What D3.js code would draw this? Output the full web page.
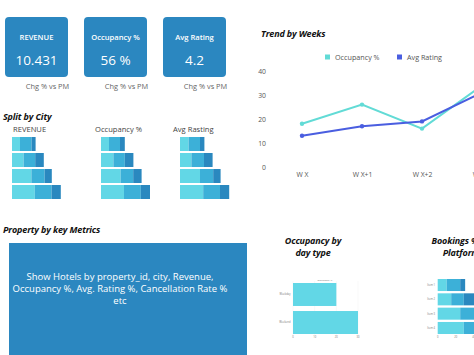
<!DOCTYPE html>
<html><head><meta charset="utf-8">
<script src="https://cdn.jsdelivr.net/npm/d3@7"></script>
<style>html,body{margin:0;padding:0;background:#fff;overflow:hidden}svg{display:block}</style>
</head><body><svg id="c" width="474" height="355"></svg>
<script>
// ---------- data ----------
const kpiTitles = ["REVENUE", "Occupancy %", "Avg Rating"];
const kpiValues = ["10.431", "56 %", "4.2"];
const kpiNote = "Chg % vs PM";
const weeks = ["W X", "W X+1", "W X+2", "W X+3"];
const occupancyTrend = [18, 26, 16, 34];
const ratingTrend = [13, 17, 19, 31];
const trendTicks = [0, 10, 20, 30, 40];
const trendSeries = ["Occupancy %", "Avg Rating"];
const splitMetrics = ["REVENUE", "Occupancy %", "Avg Rasting"];
const cities = ["City 1", "City 2", "City 3", "City 4"];
const revenueSplit = [[2, 2.9, 1], [2.9, 2.9, 2.15], [4.85, 3.3, 1.8], [5.7, 4.2, 2.3]];
const occupancySplit = [[2, 2.75, 1.2], [3.1, 2.85, 2.15], [4.9, 3.15, 2.1], [5.75, 4.2, 2.3]];
const ratingSplit = [[2.15, 2.85, 1.1], [2.85, 3.15, 2.15], [5, 3.3, 1.85], [5.8, 4.2, 2.3]];
const dayTypes = ["Weekday", "Weekend"];
const dayOccupancy = [20, 30];
const dayTicks = [0, 10, 20, 30];
const platforms = ["Item 1", "Item 2", "Item 3", "Item 4"];
const platformSplit = [[10, 15, 5.5], [15, 14, 12], [25, 16, 10], [29, 21, 12]];
const platformTicks = [0, 20, 40];
const tableNote = ["Show Hotels by property_id, city, Revenue,", "Occupancy %, Avg. Rating %, Cancellation Rate %", "etc"];

// ---------- styles ----------
const FONT = "'Open Sans', 'Noto Sans', sans-serif";
const BLUE = "#2b87c0";
const SEG = ["#62d7e6", "#3cb0d8", "#2a88bf"];
const TEAL = "#62dbd6", INDIGO = "#4a5ee0";

const svg = d3.select("#c").style("font-family", FONT);

function title(x, y, lines, anchor) {
  const t = svg.append("text").attr("x", x).attr("y", y)
    .attr("font-size", 9).attr("font-weight", 700).attr("font-style", "italic")
    .attr("letter-spacing", -0.15)
    .attr("fill", "#111").attr("text-anchor", anchor || "start");
  lines.forEach((l, i) => t.append("tspan").attr("x", x).attr("dy", i ? 12 : 0).text(l));
}

// ---------- KPI cards ----------
const cardX = d3.scaleBand().domain(kpiTitles).range([5, 226]).paddingInner(0.2025).paddingOuter(0);
const cards = svg.append("g").selectAll("g").data(kpiTitles).join("g")
  .attr("transform", d => `translate(${cardX(d)},17)`);
cards.append("rect").attr("width", cardX.bandwidth()).attr("height", 60).attr("rx", 4).attr("fill", BLUE);
cards.append("text").attr("x", cardX.bandwidth() / 2).attr("y", 20.5).attr("dy", "0.35em")
  .attr("text-anchor", "middle").attr("fill", "#fff").attr("font-size", 7.6).attr("font-weight", 600).text(d => d);
cards.append("text").attr("x", cardX.bandwidth() / 2).attr("y", 43.5).attr("dy", "0.35em")
  .attr("text-anchor", "middle").attr("fill", "#fff").attr("font-size", 13.5).attr("font-weight", 500)
  .text((d, i) => kpiValues[i]);
cards.append("text").attr("x", cardX.bandwidth() / 2 + 11).attr("y", 69).attr("dy", "0.35em")
  .attr("text-anchor", "middle").attr("fill", "#666").attr("font-size", 7.4).text(kpiNote);

// ---------- Trend by Weeks ----------
title(261, 36.5, ["Trend by Weeks"]);
const tx = d3.scalePoint().domain(weeks).range([302, 482]);
const ty = d3.scaleLinear().domain([0, 40]).range([167, 71]);
const yAx = svg.append("g").attr("transform", "translate(270,0)")
  .call(d3.axisLeft(ty).tickValues(trendTicks).tickSize(0).tickPadding(4));
yAx.select(".domain").remove();
yAx.selectAll("text").attr("font-family", FONT).attr("font-size", 6.8).attr("fill", "#555");
const xAx = svg.append("g").attr("transform", "translate(0,175)")
  .call(d3.axisBottom(tx).tickSize(0).tickPadding(0));
xAx.select(".domain").remove();
xAx.selectAll("text").attr("font-family", FONT).attr("font-size", 6.8).attr("fill", "#555").attr("dy", "0.35em");

const line = d3.line().x((d, i) => tx(weeks[i])).y(d => ty(d));
[[occupancyTrend, TEAL], [ratingTrend, INDIGO]].forEach(([vals, col]) => {
  svg.append("path").datum(vals).attr("d", line).attr("fill", "none")
    .attr("stroke", col).attr("stroke-width", 2);
  svg.append("g").selectAll("circle").data(vals).join("circle")
    .attr("cx", (d, i) => tx(weeks[i])).attr("cy", d => ty(d)).attr("r", 2.2).attr("fill", col);
});
const lg = svg.append("g").selectAll("g").data(trendSeries).join("g")
  .attr("transform", (d, i) => `translate(${[325, 397][i]},57)`);
lg.append("rect").attr("x", 0).attr("y", -2.5).attr("width", 5).attr("height", 5)
  .attr("fill", (d, i) => [TEAL, INDIGO][i]);
lg.append("text").attr("x", 10).attr("dy", "0.35em").attr("font-size", 7.2).attr("fill", "#555").text(d => d);

// ---------- Split by City ----------
title(3, 119.5, ["Split by City"]);
const splitData = [revenueSplit, occupancySplit, ratingSplit];
const splitOrigin = [12, 101, 180];
const splitLabelX = [13, 95, 173];
const cy = d3.scaleBand().domain(cities).range([137, 199]).paddingInner(0.125).paddingOuter(0);
const sx = d3.scaleLinear().domain([0, 10]).range([0, 40]);
const stack = d3.stack().keys([0, 1, 2]);
splitMetrics.forEach((m, mi) => {
  svg.append("text").attr("x", splitLabelX[mi]).attr("y", 129).attr("dy", "0.35em").attr("font-size", 7.6)
    .attr("fill", "#444").text(m);
  const g = svg.append("g").attr("transform", `translate(${splitOrigin[mi]},0)`);
  const rows = splitData[mi].map((v, i) => ({ city: cities[i], 0: v[0], 1: v[1], 2: v[2] }));
  const series = stack(rows);
  g.selectAll("g").data(series).join("g").attr("fill", (d, i) => SEG[i])
    .selectAll("rect").data(d => d).join("rect")
    .attr("x", d => sx(d[0])).attr("width", d => sx(d[1]) - sx(d[0]))
    .attr("y", d => cy(d.data.city)).attr("height", cy.bandwidth());
});

// ---------- Property by key Metrics ----------
title(3, 232.5, ["Property by key Metrics"]);
svg.append("rect").attr("x", 9).attr("y", 243).attr("width", 238).attr("height", 120).attr("fill", BLUE);
svg.append("g").selectAll("text").data(tableNote).join("text")
  .attr("x", 120).attr("y", (d, i) => 277 + i * 12).attr("dy", "0.35em").attr("text-anchor", "middle")
  .attr("fill", "#fff").attr("font-size", 9.5).attr("font-weight", 500).text(d => d);

// ---------- Occupancy by day type ----------
title(313, 243.5, ["Occupancy by", "day type"], "middle");
const dx = d3.scaleLinear().domain([0, 30]).range([293, 358]);
const dy = d3.scaleBand().domain(dayTypes).range([283, 334]).paddingInner(0.18).paddingOuter(0);
svg.append("g").selectAll("line").data(dayTicks).join("line")
  .attr("x1", d => dx(d)).attr("x2", d => dx(d)).attr("y1", 281).attr("y2", 335)
  .attr("stroke", "#f0f0f0").attr("stroke-width", 0.5);
svg.append("g").selectAll("rect").data(dayOccupancy).join("rect")
  .attr("x", dx(0)).attr("y", (d, i) => dy(dayTypes[i]))
  .attr("width", d => dx(d) - dx(0)).attr("height", dy.bandwidth()).attr("fill", SEG[0]);
svg.append("text").attr("x", 325).attr("y", 280).attr("dy", "0.35em").attr("text-anchor", "middle")
  .attr("font-size", 2.4).attr("fill", "#777").text("Occupancy %");
svg.append("g").selectAll("text").data(dayTicks).join("text")
  .attr("x", d => dx(d)).attr("y", 337.5).attr("dy", "0.35em").attr("text-anchor", "middle")
  .attr("font-size", 2.6).attr("fill", "#777").text(d => d);
svg.append("g").selectAll("text").data(dayTypes).join("text")
  .attr("x", 290.5).attr("y", d => dy(d) + dy.bandwidth() / 2).attr("dy", "0.35em").attr("text-anchor", "end")
  .attr("font-size", 2.6).attr("fill", "#777").text(d => d);

// ---------- Bookings % by Platform ----------
title(461, 243.5, ["Bookings % by", "Platform"], "middle");
const px = d3.scaleLinear().domain([0, 20]).range([437.7, 455.7]);
const py = d3.scaleBand().domain(platforms).range([279, 334]).paddingInner(0.16).paddingOuter(0);
const prow = platformSplit.map((v, i) => ({ p: platforms[i], 0: v[0], 1: v[1], 2: v[2] }));
svg.append("g").selectAll("g").data(stack(prow)).join("g").attr("fill", (d, i) => SEG[i])
  .selectAll("rect").data(d => d).join("rect")
  .attr("x", d => px(d[0])).attr("width", d => px(d[1]) - px(d[0]))
  .attr("y", d => py(d.data.p)).attr("height", py.bandwidth());
svg.append("g").selectAll("text").data(platformTicks).join("text")
  .attr("x", d => px(d)).attr("y", 337.5).attr("dy", "0.35em").attr("text-anchor", "middle")
  .attr("font-size", 2.6).attr("fill", "#777").text(d => d);
svg.append("g").selectAll("text").data(platforms).join("text")
  .attr("x", 435).attr("y", d => py(d) + py.bandwidth() / 2).attr("dy", "0.35em").attr("text-anchor", "end")
  .attr("font-size", 2.6).attr("fill", "#777").text(d => d);
</script></body></html>
